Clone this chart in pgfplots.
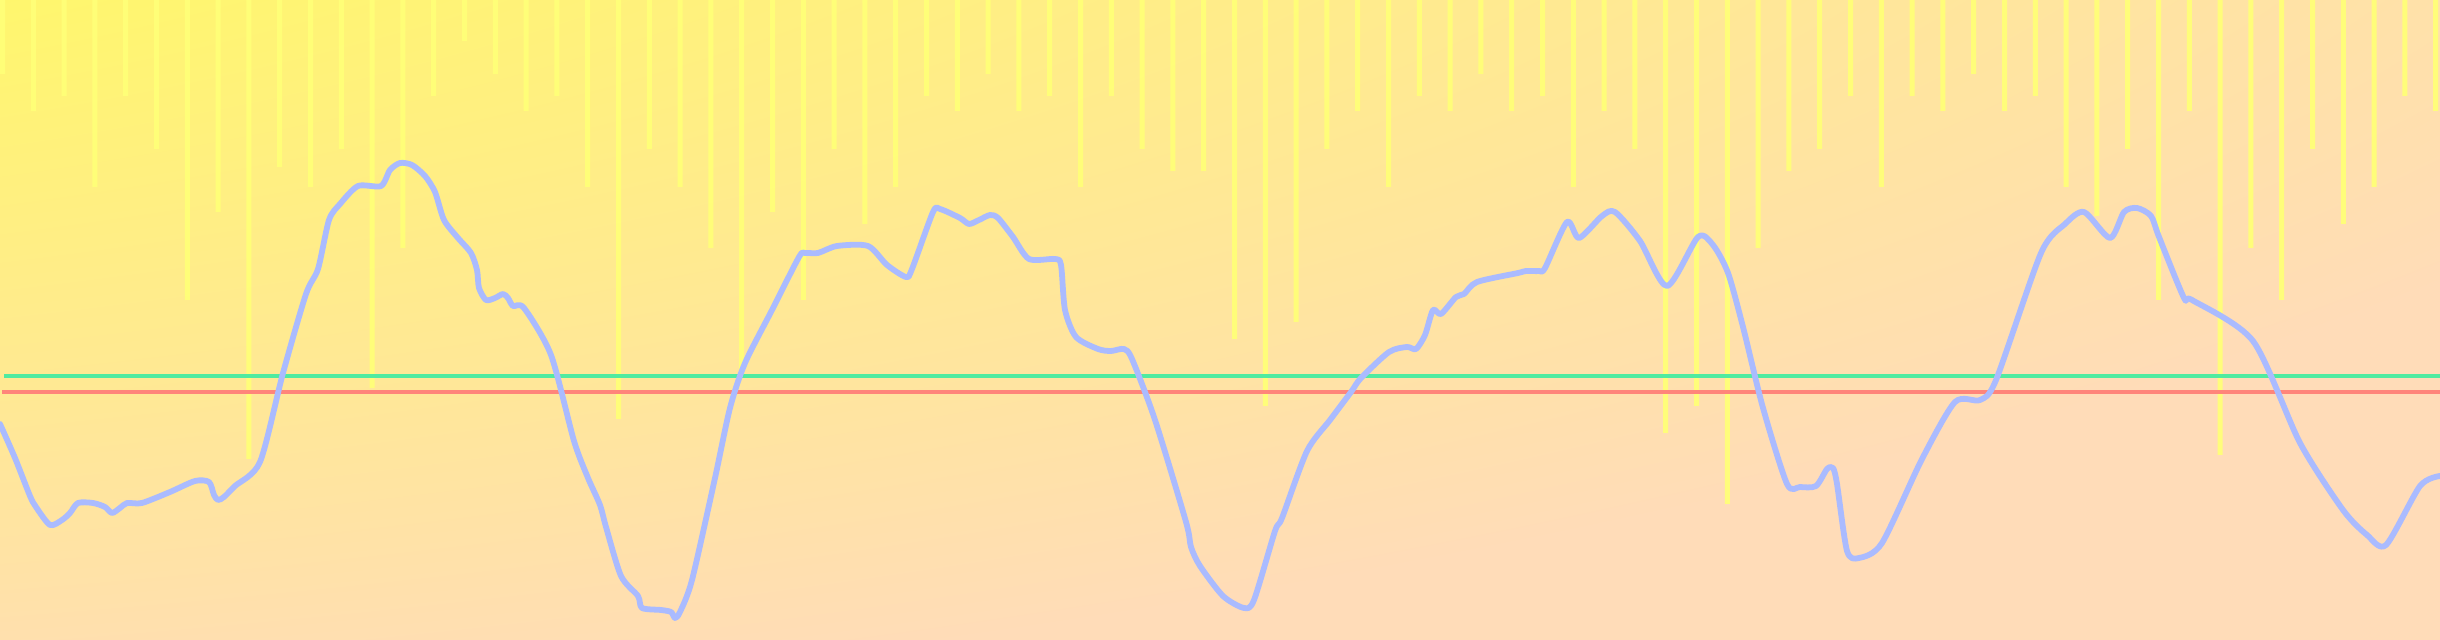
\documentclass[border=0pt]{standalone}
\usepackage{pgfplots}
\pgfplotsset{compat=1.18}
\definecolor{curveblue}{HTML}{AABBFF}
\definecolor{mint}{HTML}{50EBA0}
\definecolor{salmon}{HTML}{FF857A}
\definecolor{stripe}{HTML}{FFFF78}
\pgfdeclarefunctionalshading{bgshade}{\pgfpoint{-50bp}{-50bp}}{\pgfpoint{50bp}{50bp}}{}{
  50 sub 100 div dup mul exch 45.9 add 100 div dup mul add sqrt
  0.15 sub 0.7 div
  dup 0 lt {pop 0} if
  dup 1 gt {pop 1} if
  dup 0.137 mul 1 exch sub
  exch 0.39 mul 0.33 add
  1 3 1 roll
}
\begin{document}
\begin{tikzpicture}
\begin{axis}[
  width=1220bp, height=320bp, scale only axis,
  xmin=0, xmax=2440, ymin=0, ymax=640, y dir=reverse,
  hide axis, clip=true,
]
\shade[shading=bgshade] (axis cs:0,0) rectangle (axis cs:2440,640);
\addplot[ybar, bar width=2.5bp, fill=stripe, draw=none, fill opacity=0.95] coordinates {
(2.5,74) (33.3,111) (64.1,96) (94.9,187) (125.7,96) (156.5,149) (187.3,300) (218.1,212)
(248.9,459) (279.7,167) (310.5,187) (341.3,149) (372.1,388) (402.9,248) (433.7,96) (464.5,41)
(495.3,74) (526.1,111) (556.9,96) (587.7,187) (618.5,419) (649.3,149) (680.1,187) (710.9,248)
(741.7,376) (772.5,212) (803.3,300) (834.1,149) (864.9,224) (895.7,187) (926.5,96) (957.3,111)
(988.1,74) (1018.9,111) (1049.7,96) (1080.5,187) (1111.3,96) (1142.1,149) (1172.9,171) (1203.7,171)
(1234.5,339) (1265.3,406) (1296.1,322) (1326.9,149) (1357.7,111) (1388.5,187) (1419.3,96) (1450.1,111)
(1480.9,74) (1511.7,111) (1542.5,96) (1573.3,187) (1604.1,111) (1634.9,149) (1665.7,433) (1696.5,406)
(1727.3,504) (1758.1,248) (1788.9,171) (1819.7,149) (1850.5,96) (1881.3,187) (1912.1,96) (1942.9,111)
(1973.7,74) (2004.5,111) (2035.3,96) (2066.1,187) (2096.9,216) (2127.7,149) (2158.5,300) (2189.3,111)
(2220.1,455) (2250.9,248) (2281.7,300) (2312.5,149) (2343.3,224) (2374.1,187) (2404.9,96) (2435.7,111)
};
\addplot[mint, line width=2bp] coordinates {(4,376) (2440,376)};
\addplot[salmon, line width=2bp] coordinates {(2,392) (2440,392)};
\addplot[curveblue, line width=2.9bp, smooth, tension=0.45, line join=round, line cap=round] coordinates {
(0,424) (15,458) (30,496) (36,507) (50,525) (62,520) (70,513) (78,503) (93,503) (105,507)
(112,513) (120,508) (127,503) (142,503) (170,492) (195,481) (209,482) (214,495) (218,500) (224,497)
(235,486) (260,462) (283,373) (306,294) (318,269) (329,220) (340,204) (358,186) (381,186) (390,170)
(400,163) (412,165) (425,176) (435,192) (444,220) (458,238) (471,253) (477,270) (479,288) (486,300)
(495,298) (503,294) (508,298) (513,306) (524,308) (551,355) (574,441) (588,478) (600,505) (606,527)
(621,576) (638,596) (642,608) (661,610) (671,612) (675,618) (680,612) (692,580) (715,478) (730,408)
(745,363) (772,310) (799,257) (805,253) (818,253) (837,246) (868,246) (887,265) (906,277) (912,269)
(933,212) (940,209) (960,218) (969,224) (979,220) (990,215) (998,218) (1013,237) (1029,259) (1055,259)
(1061,265) (1065,310) (1076,337) (1098,349) (1111,351) (1124,349) (1132,359) (1155,420) (1186,522) (1191,547)
(1200,566) (1223,596) (1244,608) (1254,600) (1275,531) (1282,518) (1307,451) (1330,420) (1351,392) (1361,378)
(1389,352) (1407,347) (1416,349) (1425,335) (1433,310) (1441,314) (1456,297) (1464,294) (1477,282) (1518,273)
(1526,271) (1539,271) (1545,268) (1567,222) (1579,238) (1602,216) (1615,212) (1640,241) (1667,286) (1698,237)
(1713,245) (1728,273) (1743,327) (1763,408) (1787,484) (1800,487) (1816,486) (1827,469) (1833,468) (1837,484)
(1847,551) (1859,558) (1882,543) (1922,459) (1955,402) (1980,400) (1996,380) (2041,253) (2065,224) (2084,212)
(2110,238) (2124,212) (2137,208) (2151,216) (2159,237) (2184,298) (2192,300) (2253,341) (2300,443) (2343,510)
(2367,535) (2386,545) (2420,486) (2440,476)
};
\end{axis}
\end{tikzpicture}
\end{document}
